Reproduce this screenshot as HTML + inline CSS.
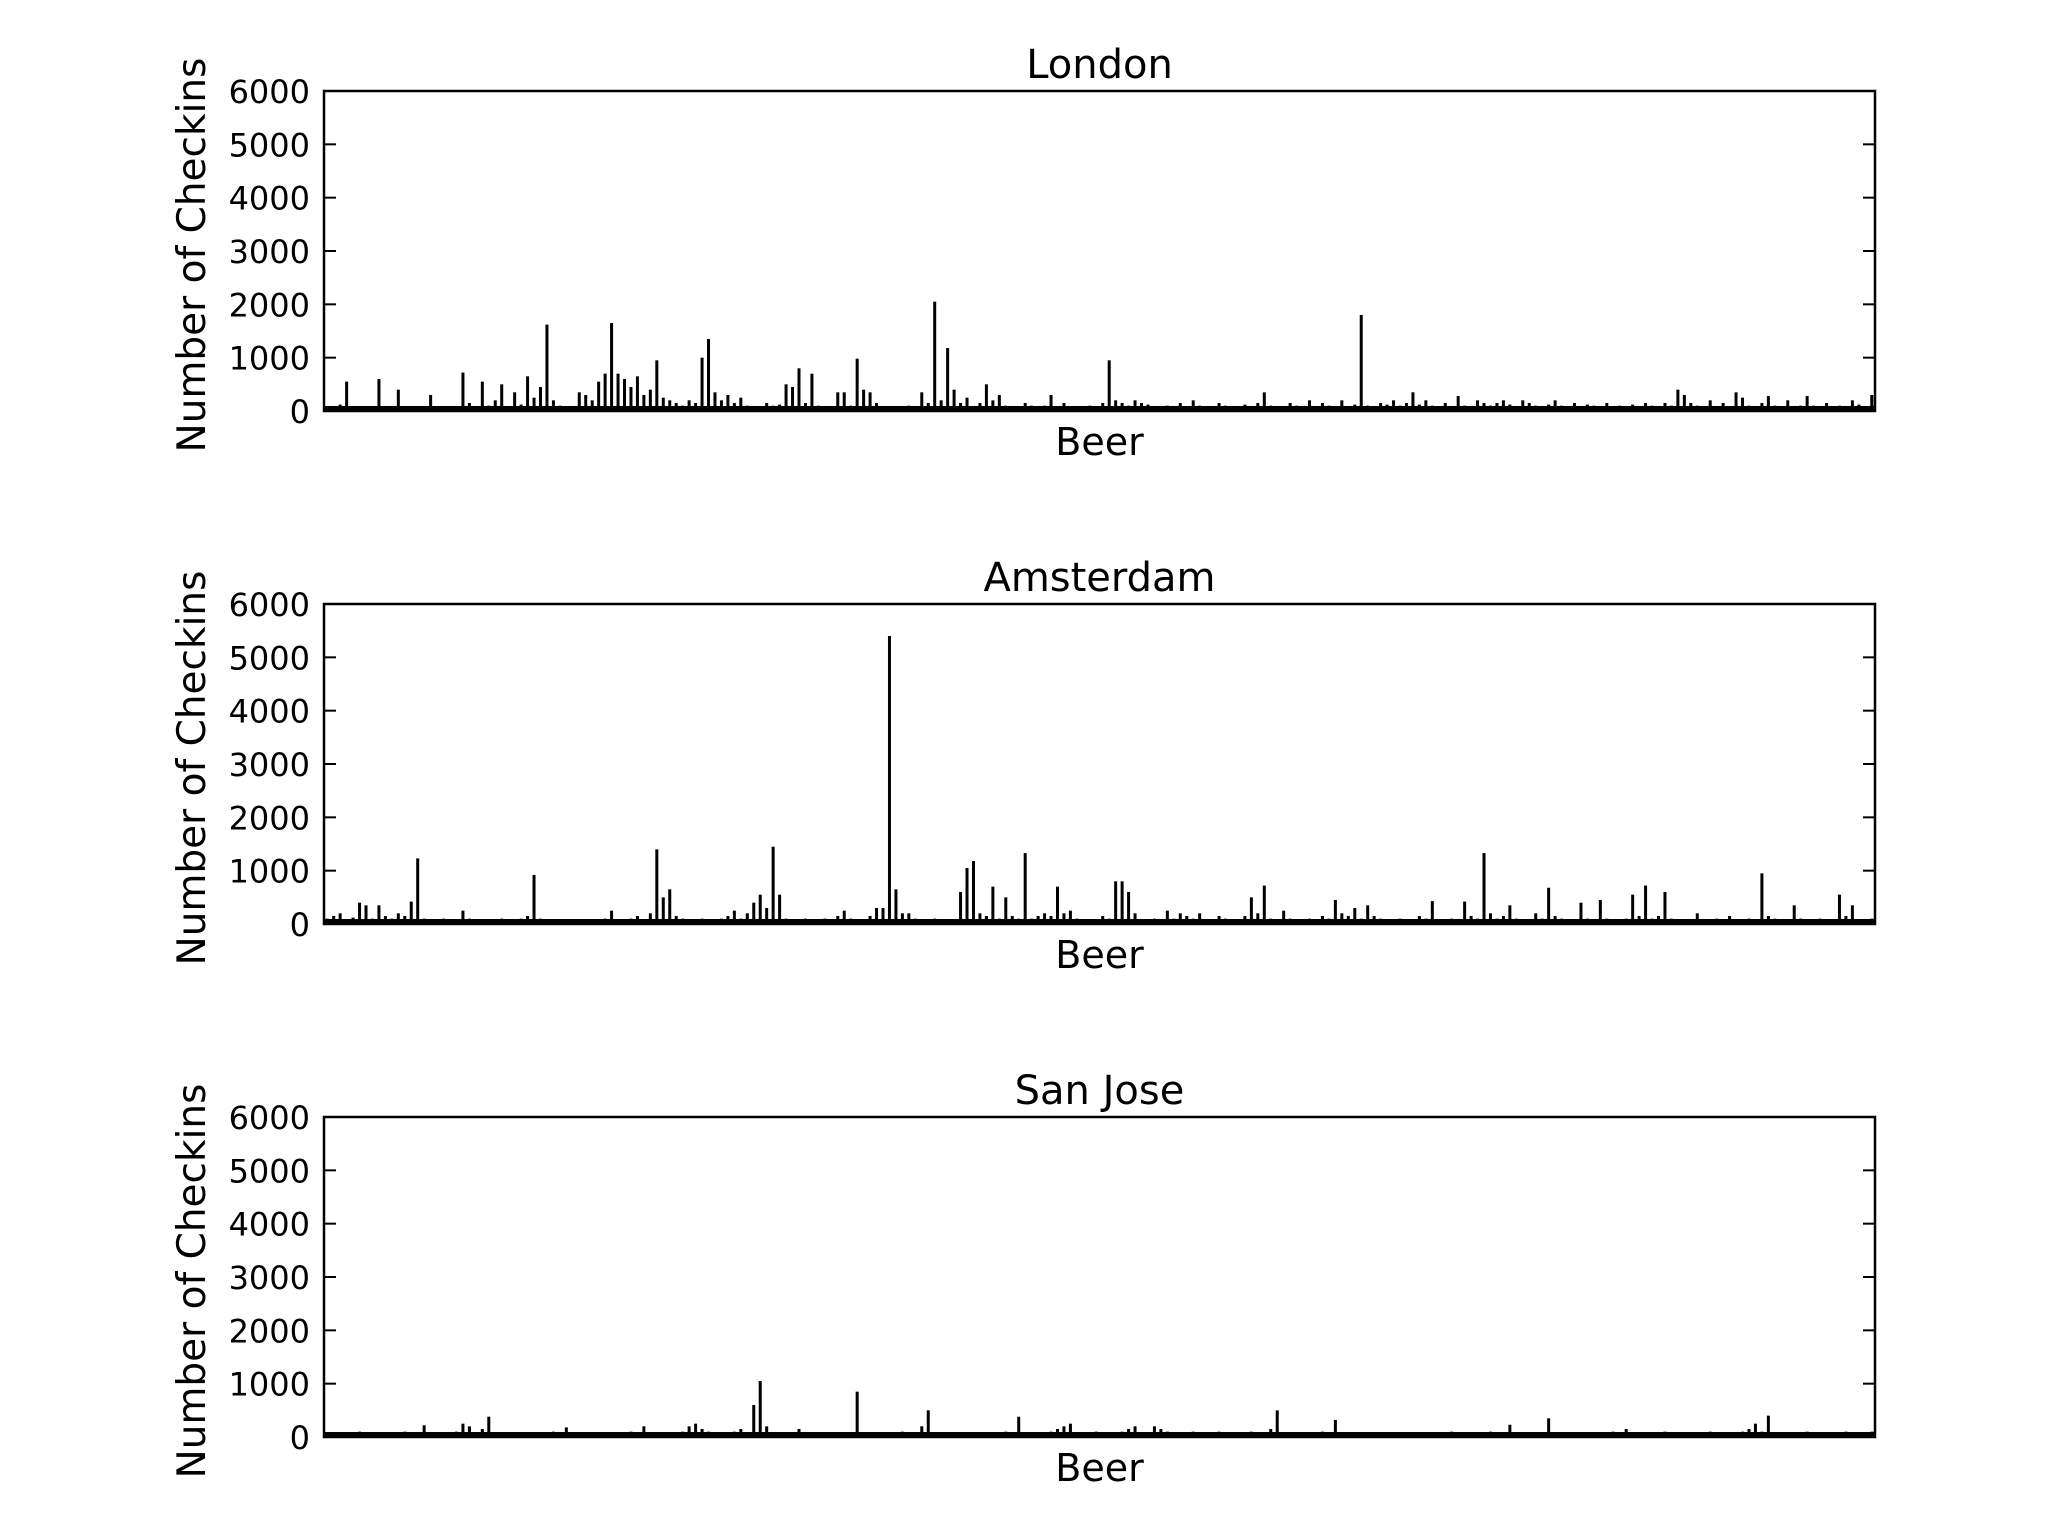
<!DOCTYPE html>
<html><head><meta charset="utf-8"><style>
html,body{margin:0;padding:0;background:#fff}
svg{display:block}
text{font-family:"DejaVu Sans","Liberation Sans",sans-serif;fill:#000}
</style></head><body>
<svg id="chart" width="2048" height="1536" viewBox="0 0 2048 1536"></svg>
<script>
const cities = ["London","Amsterdam","San Jose"];
const yTicks = [0,1000,2000,3000,4000,5000,6000];
const londonValues = [
80,60,120,550,40,90,60,30,600,50,
70,400,60,30,20,40,300,80,60,40,
90,720,150,60,550,100,200,500,80,350,
120,650,250,450,1620,200,100,60,80,350,
300,200,550,700,1650,700,600,450,650,300,
400,950,250,200,150,100,200,150,1000,1350,
350,200,300,150,250,100,80,60,150,100,
120,500,450,800,150,700,100,80,60,350,
350,100,980,400,350,150,80,60,50,70,
100,80,350,150,2050,200,1180,400,150,250,
80,150,500,200,300,100,80,60,150,100,
80,100,300,60,150,80,40,60,100,80,
150,950,200,150,100,200,150,120,80,60,
100,60,150,80,200,100,60,80,150,100,
80,60,120,80,150,350,100,60,80,150,
100,80,200,60,150,100,80,200,60,120,
1800,100,80,150,120,200,100,150,350,120,
200,100,80,150,60,280,100,80,200,150,
100,150,200,120,80,200,150,100,60,120,
200,100,80,150,60,120,100,80,150,60,
100,80,120,60,150,100,80,150,100,400,
300,150,100,80,200,60,150,80,350,250,
100,80,150,280,100,60,200,80,100,280,
100,60,150,80,100,60,200,120,80,300];
const amsterdamValues = [
100,150,200,80,120,400,350,100,350,150,
100,200,150,420,1230,100,80,60,100,80,
60,250,100,80,60,40,80,100,60,80,
100,150,920,100,80,60,40,60,80,60,
40,60,80,100,250,80,60,100,150,80,
200,1400,500,650,150,100,80,60,100,80,
60,100,150,250,100,200,400,550,300,1450,
550,100,80,60,100,80,60,100,80,150,
250,100,80,60,150,300,300,5400,650,200,
200,100,80,60,100,80,60,80,600,1050,
1180,200,150,700,100,500,150,100,1330,100,
150,200,150,700,200,250,100,80,60,80,
150,100,800,800,600,200,80,60,100,80,
250,100,200,150,100,200,80,60,150,100,
80,60,150,500,200,720,100,80,250,100,
80,60,100,80,150,100,450,200,150,300,
100,350,150,100,80,60,100,80,60,150,
100,430,80,60,100,80,420,150,100,1330,
200,100,150,350,100,80,60,200,100,680,
150,100,80,60,400,100,80,450,100,80,
60,100,550,150,720,100,150,600,100,80,
60,80,200,80,60,100,80,150,60,80,
100,80,950,150,100,80,60,350,100,80,
60,100,80,60,550,150,350,80,60,100];
const sanJoseValues = [
60,40,80,30,50,100,40,60,80,30,
50,40,100,60,40,220,80,30,60,40,
100,250,200,80,150,380,60,40,80,30,
50,80,40,60,30,100,60,180,40,30,
20,40,30,50,80,40,60,100,40,200,
30,40,60,80,40,100,200,250,150,100,
80,60,40,100,150,60,600,1050,200,80,
40,30,60,150,40,30,20,40,60,30,
40,60,850,80,40,30,60,80,40,100,
60,40,200,500,80,60,40,30,60,80,
40,60,30,80,60,100,40,380,60,40,
80,60,100,150,200,250,80,60,40,100,
60,80,40,100,150,200,80,60,200,150,
100,60,80,40,100,60,80,40,100,60,
80,60,40,100,60,80,150,500,80,60,
40,60,80,40,100,60,320,80,40,60,
30,60,40,80,60,40,60,80,40,30,
60,80,40,60,100,40,80,60,40,60,
100,60,40,230,80,40,60,80,60,350,
60,40,80,60,40,60,80,40,60,100,
80,150,60,40,80,60,40,100,60,40,
60,80,40,60,100,60,40,80,60,100,
150,250,100,400,80,60,40,80,60,100,
40,60,80,40,60,100,40,80,60,100];
const allSeries = [londonValues, amsterdamValues, sanJoseValues];

const NS = "http://www.w3.org/2000/svg";
const svg = document.getElementById("chart");
const L = 324, R = 1875, PH = 320, tops = [91, 604, 1117];
const yMax = 6000;
function mk(tag, attrs, parent){const e=document.createElementNS(NS,tag);for(const k in attrs)e.setAttribute(k,attrs[k]);(parent||svg).appendChild(e);return e;}

cities.forEach((city, p) => {
  const top = tops[p], bot = top + PH;
  const yScale = v => bot - v / yMax * PH;
  const vals = allSeries[p];
  const n = vals.length;
  const xScale = i => L + (i + 0.5) * (R - L) / n;
  const g = mk("g", {});
  
  
  vals.forEach((v, i) => {
    const y = yScale(v);
    const b = mk("rect", {x: xScale(i) - 1.5, y: y, width: 3, height: bot - y, fill: "#000"}, g);
    
    
  });
  const bl = mk("rect", {x: L, y: bot - 5, width: R - L, height: 5, fill: "#000"}, g);
  
  
  const fr = mk("rect", {x: L, y: top, width: R - L, height: PH, fill: "none", stroke: "#000", "stroke-width": 2.5}, g);
  
  
  yTicks.forEach(t => {
    const y = yScale(t);
    mk("line", {x1: L, x2: L + 12, y1: y, y2: y, stroke: "#000", "stroke-width": 2}, g);
    mk("line", {x1: R - 12, x2: R, y1: y, y2: y, stroke: "#000", "stroke-width": 2}, g);
    const tl = mk("text", {x: 310, y: y + 12, "text-anchor": "end", "font-size": 32}, g);
    tl.textContent = t;
    
    
  });
  const title = mk("text", {x: (L + R) / 2, y: top - 13, "text-anchor": "middle", "font-size": 40}, g);
  title.textContent = city;
  
  
  const xl = mk("text", {x: (L + R) / 2, y: bot + 44, "text-anchor": "middle", "font-size": 38}, g);
  xl.textContent = "Beer";
  
  
  const yl = mk("text", {x: 0, y: 0, "text-anchor": "middle", "font-size": 39, transform: "translate(205," + (top + PH / 2 + 4) + ") rotate(-90)"}, g);
  yl.textContent = "Number of Checkins";
  
  
});
</script>
</body></html>
